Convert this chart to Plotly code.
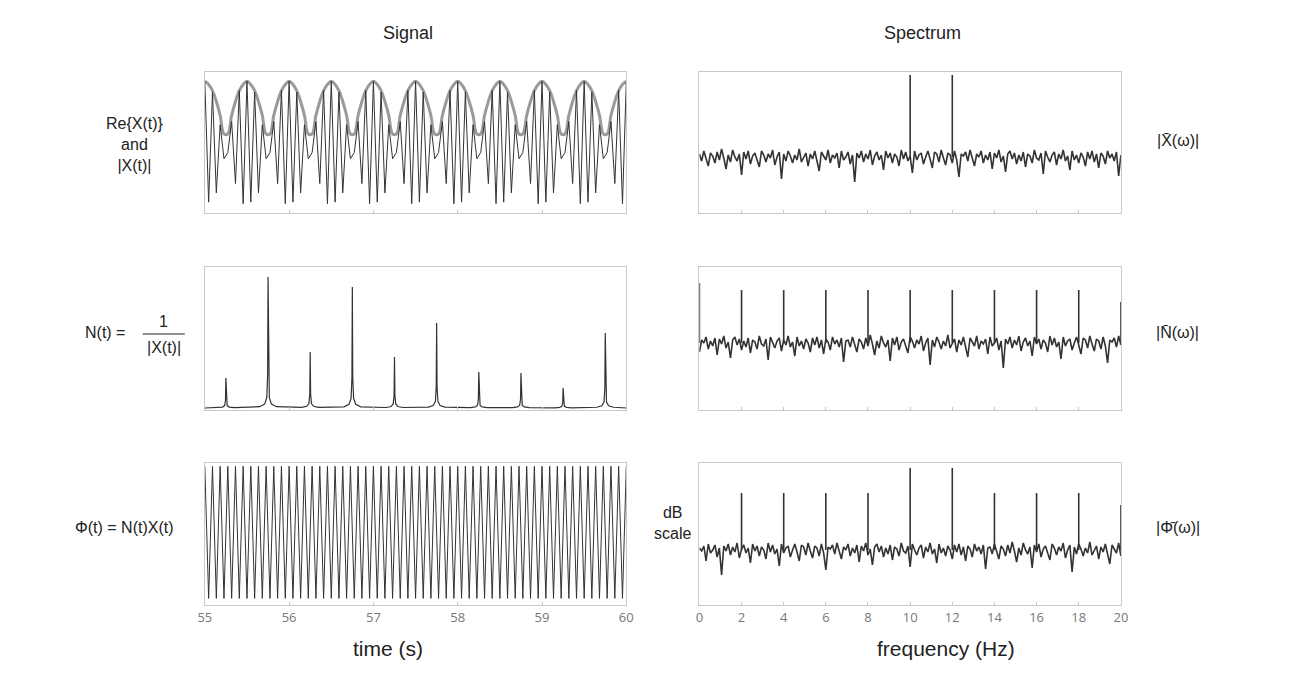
import numpy as np
import plotly.graph_objects as go

# --- data ---
t_start = 55.0
beat_len = 0.5
n_beats = 10
# one beat of Re{X(t)}: successive extrema (carrier ~11 Hz)
beat_re = [2.0, -1.9, 1.65, -1.6, 0.6, -0.5, -0.3, 0.7, -1.3, 1.7, -1.95]
beat_env = [2.0, 1.9, 1.7, 1.35, 0.9, 0.3, 0.3, 0.9, 1.35, 1.7, 1.9]

# N(t) spikes (time, height in px above baseline)
spike_t = [55.25, 55.75, 56.25, 56.75, 57.25, 57.75, 58.25, 58.75, 59.25, 59.75]
spike_h = [30, 131, 56, 121, 51, 85, 36, 35, 20, 75]
spike_dt = [-0.1, -0.04, -0.015, -0.005, 0, 0.005, 0.015, 0.04, 0.1]
spike_shape = [0.01, 0.03, 0.08, 0.25, 1.0, 0.25, 0.08, 0.03, 0.01]

# Phi(t) extrema (constant amplitude oscillation)
phi_amp = [1, -1]

# spectrum noise floor (px deviations)
noise = [3, -4, 6, -2, -9, 4, 1, -6, 5, -3, 8, -1, -12, 2, -5, 7, 0, -4, 3, -18,
         5, -2, 6, -7, 1, 4, -3, -10, 6, 2, -5, 3, -1, 7, -8, 0, 5, -22, 3, -4,
         6, 1, -6, 2, -3, 8, -5, 0, 4, -9, 3, -2, 6, -4, -14, 5, 1, -3, 7, -6,
         2, -1, 4, -11, 6, -3, 0, 5, -7, 2, -25, 4, -1, 6, -5, 3, -2, 7, -8, 1,
         5, -3, 2, -13, 6, -1, 4, -6, 3, 0, -9, 7, -2, 5, -4, 1, -16, 6, -3, 2,
         4, -7, 0, 6, -2, -11, 5, 3, -5, 7, -1, -8, 4, 2, -6, 6, -3, -20, 3, 1,
         5, -4, 7, -2, -9, 3, 0, 6, -6, 2, -3, 5, -12, 4, -1, 7, -5, 1, -15, 3,
         6, -2, 4, -7, 2, -4, 5, -10, 3, 1, -6, 7, -1, -3, 4, -17, 6, 0, -5, 2,
         5, -8, 3, -2, 7, -4, 1, -13, 6, -3, 2, -6, 4, 0, -9, 5, -2, 6, -5, 3,
         -11, 4, 1, -7, 6, -1, 3, -4, 5, -19, 2]
freq = np.linspace(0, 20, len(noise))
floor_levels = [56, 67, 55]
shifts = [0, 67, 131]
spec_f = [[10, 12],
          [0, 2, 4, 6, 8, 10, 12, 14, 16, 18, 20],
          [2, 4, 6, 8, 10, 12, 14, 16, 18, 20]]
spec_h = [[138, 138],
          [127, 120, 120, 120, 120, 120, 120, 120, 120, 120, 108],
          [112, 112, 112, 112, 137, 137, 112, 112, 112, 100]]

dark = "#333333"
fig = go.Figure()

# top-left: Re{X} and |X|
t_re, y_re, y_env = [], [], []
for b in range(n_beats):
    for k in range(len(beat_re)):
        t_re.append(t_start + b * beat_len + k * beat_len / len(beat_re))
        y_re.append(beat_re[k])
        y_env.append(beat_env[k])
t_re.append(60.0); y_re.append(beat_re[0]); y_env.append(beat_env[0])
fig.add_trace(go.Scatter(x=t_re, y=y_env, mode="lines", line=dict(color="#9a9a9a", width=3, shape="spline"),
                         xaxis="x", yaxis="y"))
fig.add_trace(go.Scatter(x=t_re, y=y_re, mode="lines", line=dict(color=dark, width=1),
                         xaxis="x", yaxis="y"))

# mid-left: N(t)
nx, ny = [55.0], [2]
for st, sh in zip(spike_t, spike_h):
    for d, s in zip(spike_dt, spike_shape):
        nx.append(st + d); ny.append(2 + sh * s)
nx.append(60.0); ny.append(2)
fig.add_trace(go.Scatter(x=nx, y=ny, mode="lines", line=dict(color=dark, width=1.2),
                         xaxis="x3", yaxis="y3"))

# bottom-left: Phi(t)
n_ext = int(5 * 22) + 1
px_ = [t_start + k / 22 for k in range(n_ext)]
py_ = [phi_amp[k % 2] for k in range(n_ext)]
fig.add_trace(go.Scatter(x=px_, y=py_, mode="lines", line=dict(color=dark, width=1),
                         xaxis="x5", yaxis="y5"))

# spectra
for i, (ax, ay) in enumerate([("x2", "y2"), ("x4", "y4"), ("x6", "y6")]):
    nz = np.roll(noise, shifts[i]) + floor_levels[i]
    fig.add_trace(go.Scatter(x=freq, y=nz, mode="lines", line=dict(color=dark, width=1.6),
                             xaxis=ax, yaxis=ay))
    sx, sy = [], []
    for f, h in zip(spec_f[i], spec_h[i]):
        sx += [f, f, None]; sy += [floor_levels[i], h, None]
    fig.add_trace(go.Scatter(x=sx, y=sy, mode="lines", line=dict(color=dark, width=1.6),
                             xaxis=ax, yaxis=ay))

W, H = 1300, 675
def fx(p):
    return (p - 15.4) / 1284.5
def fy(p):
    return 1 - (p - 8) / 675

xl = [fx(205), fx(626)]
xr = [fx(699), fx(1120)]
rows = [[fy(213), fy(72)], [fy(410), fy(267)], [fy(605), fy(463)]]
frame = dict(showline=True, mirror=True, linecolor="#c8c8c8", linewidth=1, showgrid=False,
             zeroline=False, ticks="inside", ticklen=3, tickcolor="#c8c8c8")
lay = dict()
for r in range(3):
    for c in range(2):
        idx = r * 2 + c + 1
        sfx = "" if idx == 1 else str(idx)
        last = r == 2
        if c == 0:
            xa = dict(domain=xl, range=[55, 60], tickvals=[55, 56, 57, 58, 59, 60], showticklabels=last)
        else:
            xa = dict(domain=xr, range=[0, 20], tickvals=list(range(0, 21, 2)), showticklabels=last)
        xa.update(frame, anchor="y" + sfx, tickfont=dict(size=13, color="#777"))
        if c == 0:
            yr = [[-2.25, 2.3], [0, 143], [-1.1, 1.05]][r]
        else:
            yr = [[0, 141], [0, 143], [0, 142]][r]
        ya = dict(domain=rows[r], range=yr, showticklabels=False, anchor="x" + sfx)
        ya.update(frame)
        ya["ticks"] = ""
        lay["xaxis" + sfx] = xa
        lay["yaxis" + sfx] = ya

fnt = dict(family="Liberation Sans, Arial", size=17, color="#222")
def ann(x, y, text, size=17, **kw):
    return dict(x=fx(x), y=fy(y), xref="paper", yref="paper", text=text, showarrow=False,
                xanchor="center", yanchor="middle", font=dict(fnt, size=size), **kw)

annotations = [
    ann(408, 33, "Signal", 18), ann(922, 33, "Spectrum", 18),
    ann(135, 144, "Re{X(t)}<br>and<br>|X(t)|", 16),
    ann(105, 333, "N(t) =", 16),
    ann(164, 321, "1", 16), ann(164, 347, "|X(t)|", 16),
    ann(125, 527, "Φ(t) = N(t)X(t)", 16),
    ann(672, 523, "dB<br>scale", 16),
    ann(1177, 140, "|X\u0304(ω)|", 16), ann(1177, 333, "|N\u0304(ω)|", 16),
    ann(1177, 527, "|Φ\u0304(ω)|", 16),
    ann(388, 648, "time (s)", 21), ann(945, 648, "frequency (Hz)", 21),
]
shapes = [dict(type="line", xref="paper", yref="paper", x0=fx(143), x1=fx(185),
               y0=fy(334), y1=fy(334), line=dict(color="#222", width=1.2))]

fig.update_layout(width=W, height=H, margin=dict(l=0, r=0, t=0, b=0), showlegend=False,
                  plot_bgcolor="white", paper_bgcolor="white", annotations=annotations,
                  shapes=shapes, **lay)
fig.write_html("out.html")
